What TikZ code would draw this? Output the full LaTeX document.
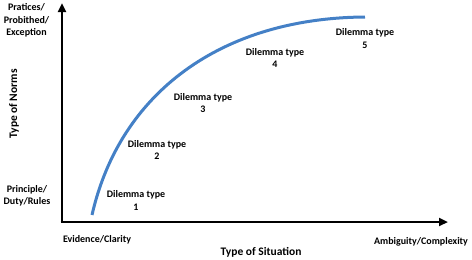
\documentclass[tikz,border=0pt]{standalone}
\usepackage{fontspec}
\setmainfont{Carlito}
\usetikzlibrary{arrows.meta}
\definecolor{curveblue}{RGB}{68,128,198}
\begin{document}
\begin{tikzpicture}[x=1pt,y=-1pt,
  lbl/.style={font=\bfseries\fontsize{10}{12.5}\selectfont,align=center,inner sep=0pt},
  title/.style={font=\bfseries\fontsize{11.5}{13}\selectfont,inner sep=0pt},
  axis/.style={line width=2.6pt,-{Triangle[length=9pt,width=8pt]}}]
\useasboundingbox (0,0) rectangle (472,260);
\coordinate (o) at (62,222);
\coordinate (ytop) at (62,3);
\coordinate (xend) at (448,222);
\draw[axis] ([yshift=1.3pt]o) -- (ytop);
\draw[axis] ([xshift=-1.3pt]o) -- (xend);
\coordinate (cs) at (92,215);
\coordinate (ce) at (365,17);
\draw[curveblue,line width=3pt] (cs) .. controls (120,92) and (222,18) .. (ce);
\node[lbl] (d1) at (136,200.5) {Dilemma type\\1};
\node[lbl] (d2) at (157,150) {Dilemma type\\2};
\node[lbl] (d3) at (203,103) {Dilemma type\\3};
\node[lbl] (d4) at (275,58) {Dilemma type\\4};
\node[lbl] (d5) at (365,38.5) {Dilemma type\\5};
\node[lbl] (top) at (26.5,20.5) {Pratices/\\Probithed/\\Exception};
\node[lbl] (bot) at (27,196) {Principle/\\Duty/Rules};
\node[lbl] (ev) at (97,240) {Evidence/Clarity};
\node[lbl] (am) at (421,242) {Ambiguity/Complexity};
\node[title] (xt) at (261,252) {Type of Situation};
\node[title,rotate=90] (yt) at (14,104) {Type of Norms};
\end{tikzpicture}
\end{document}
